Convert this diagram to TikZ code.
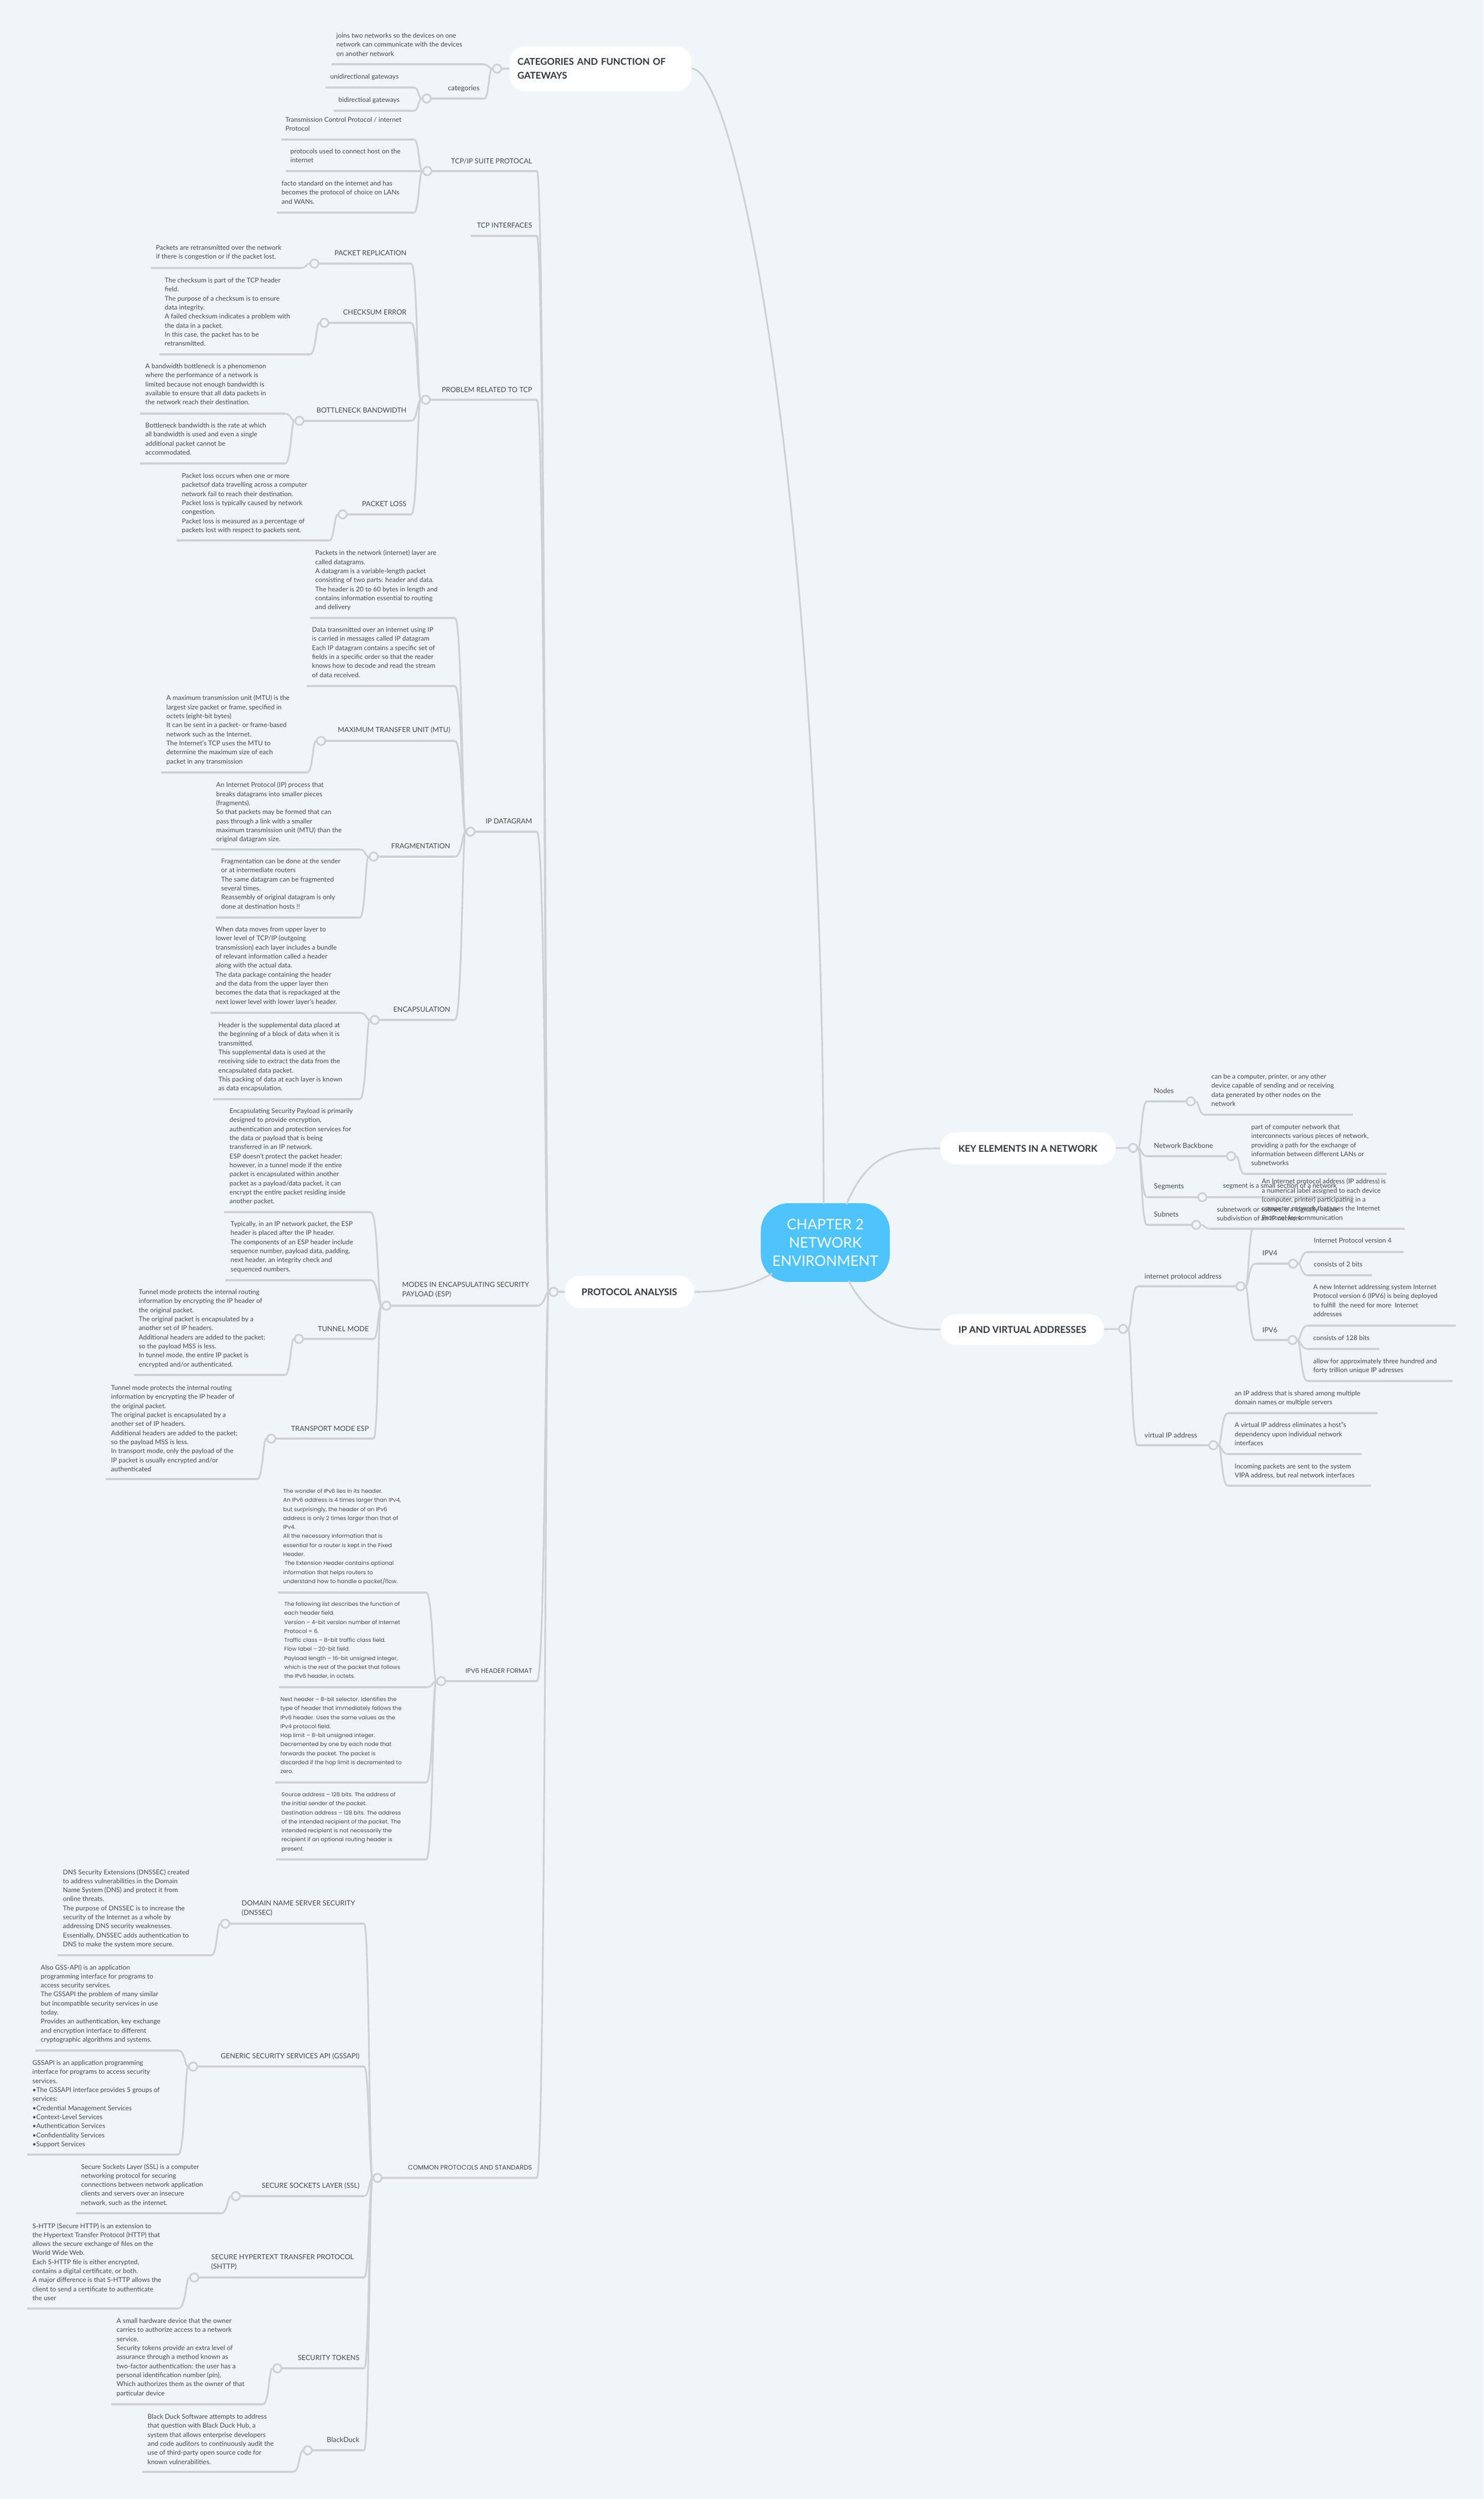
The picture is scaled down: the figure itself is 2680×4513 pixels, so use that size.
\documentclass[tikz,border=0pt]{standalone}
\usepackage{fontspec}
\setmainfont{Lato}
\newfontfamily\pop{Poppins}
\usetikzlibrary{calc}
\definecolor{bg}{RGB}{240,245,249}
\definecolor{ln}{RGB}{206,210,214}
\definecolor{tx}{RGB}{72,76,82}
\definecolor{hd}{RGB}{50,56,62}
\definecolor{cb}{RGB}{79,195,252}
\tikzset{
 conn/.style={draw=ln, line width=0.9pt},
 dot/.style={circle, draw=ln, fill=bg, line width=0.9pt, minimum size=0.15cm, inner sep=0},
 note/.style={font=\fontsize{3.4}{4.64}\selectfont, text=tx, align=left, inner sep=0, anchor=north west},
 pnote/.style={font=\pop\fontsize{2.85}{4.64}\selectfont, text=tx, align=left, inner sep=0, anchor=north west},
 labr/.style={font=\fontsize{3.6}{4.64}\selectfont, text=tx, align=left, inner sep=0, anchor=east},
 labl/.style={font=\fontsize{3.6}{4.64}\selectfont, text=tx, align=left, inner sep=0, anchor=west},
 hbox/.style={fill=white, rounded corners=0.27cm, font=\bfseries\fontsize{4.8}{7}\selectfont, text=hd, inner sep=0},
}
\newcommand\curL[2]{\draw[conn] (#1) .. controls ($(#1-|#2)+(-15,0)$) and ($(#2)+(-15,0)$) .. (#2);}
\newcommand\curR[2]{\draw[conn] (#1) .. controls ($(#1)+(15,0)$) and ($(#2-|#1)+(15,0)$) .. (#2);}
\newcommand\LN[9][note]{\node[#1] (#2) at (#3,#4) {#9};
 \coordinate (#2a) at (#6,#5); \coordinate (#2b) at (#7,#5);
 \draw[conn] (#2a) -- (#2b); \curL{#2b}{#8}}
\newcommand\LL[7]{\node[labr] (#1) at ({#6-8},#3) {#2};
 \node[dot] (#1d) at (#5,#4) {}; \coordinate (#1e) at (#6,#4);
 \draw[conn] (#1d) -- (#1e); \curL{#1e}{#7}}
\newcommand\RL[7]{\node[labl] (#1) at ({#5+12},#3) {#2};
 \coordinate (#1s) at (#5,#4); \node[dot] (#1d) at (#6,#4) {};
 \draw[conn] (#1s) -- (#1d); \curR{#7}{#1s}}
\newcommand\RN[8]{\node[note] (#1) at (#2,#3) {#8};
 \coordinate (#1a) at (#5,#4); \coordinate (#1b) at (#6,#4);
 \draw[conn] (#1a) -- (#1b); \curR{#7}{#1a}}
\begin{document}
\begin{tikzpicture}[x=0.01cm,y=-0.01cm]
\fill[bg] (0,0) rectangle (2680,4513);
\useasboundingbox (0,0) rectangle (2680,4513);
\node[fill=cb, rounded corners=0.5cm, minimum width=2.33cm, minimum height=1.42cm, align=center, text=white, font=\fontsize{7.4}{9.4}\selectfont, inner sep=0] (ch) at (1491,2244) {CHAPTER 2\\NETWORK\\ENVIRONMENT};
\coordinate (cht) at (1488,2174);
\coordinate (chtr) at (1529,2175);
\coordinate (chbr) at (1533,2313);
\coordinate (chw) at (1395,2300);
\node[hbox, minimum width=3.28cm, minimum height=0.81cm, text width=3.0cm, align=left] (gw) at (1085,124) {CATEGORIES AND FUNCTION OF\\GATEWAYS};
\node[dot] (gwd) at (898,124) {};
\draw[conn] (gwd) -- (gw);
\draw[conn] (gw.east) .. controls (1330,124) and (1488,900) .. (cht);
\node[hbox, minimum width=2.33cm, minimum height=0.58cm, align=center] (pa) at (1137,2333) {PROTOCOL ANALYSIS};
\node[dot] (pad) at (1000,2333) {};
\draw[conn] (pad) -- (pa);
\draw[conn] (pa.east) .. controls (1330,2333) and (1360,2318) .. (chw);
\node[hbox, minimum width=3.16cm, minimum height=0.58cm, align=center] (ke) at (1857,2074) {KEY ELEMENTS IN A NETWORK};
\node[dot] (ked) at (2047,2073) {};
\draw[conn] (ke) -- (ked);
\draw[conn] (chtr) .. controls (1570,2080) and (1620,2074) .. (ke.west);
\node[hbox, minimum width=2.94cm, minimum height=0.56cm, align=center] (ipv) at (1847,2401) {IP AND VIRTUAL ADDRESSES};
\node[dot] (ipvd) at (2029,2400) {};
\draw[conn] (ipv) -- (ipvd);
\draw[conn] (chbr) .. controls (1580,2400) and (1640,2401) .. (ipv.west);
\LN{g1}{607}{59}{116}{599}{872}{gwd}{joins two networks so the devices on one\\network can communicate with the devices\\on another network}
\LL{cat}{categories}{160}{178}{771}{875}{gwd}
\LN{g2}{596}{133}{158}{588}{748}{catd}{unidirectional gateways}
\LN{g3}{611}{175}{200}{603}{748}{catd}{bidirectioal gateways}
\LL{tcpip}{TCP/IP SUITE PROTOCAL}{291}{309}{772}{970}{pad}
\LN{t1}{515}{211}{252}{508}{748}{tcpipd}{Transmission Control Protocol / internet\\Protocol}
\LN{t2}{524}{268}{309}{516}{748}{tcpipd}{protocols used to connect host on the\\internet}
\LN{t3}{508}{326}{384}{500}{748}{tcpipd}{facto standard on the internet and has\\becomes the protocol of choice on LANs\\and WANs.}
\node[labr] (tcpi) at (962,407) {TCP INTERFACES};
\coordinate (tcpia) at (850,426); \coordinate (tcpie) at (970,426);
\draw[conn] (tcpia) -- (tcpie); \curL{tcpie}{pad}
\LL{prob}{PROBLEM RELATED TO TCP}{704}{722}{769}{970}{pad}
\LL{prep}{PACKET REPLICATION}{457}{476}{568}{743}{probd}
\LN{n1}{281}{442}{484}{272}{545}{prepd}{Packets are retransmitted over the network\\if there is congestion or if the packet lost.}
\LL{chk}{CHECKSUM ERROR}{564}{583}{586}{743}{probd}
\LN{n2}{297}{501}{640}{288}{560}{chkd}{The checksum is part of the TCP header\\field.\\The purpose of a checksum is to ensure\\data integrity.\\A failed checksum indicates a problem with\\the data in a packet.\\In this case, the packet has to be\\retransmitted.}
\LL{bot}{BOTTLENECK BANDWIDTH}{741}{760}{541}{743}{probd}
\LN{n3}{262}{656}{747}{253}{515}{botd}{A bandwidth bottleneck is a phenomenon\\where the performance of a network is\\limited because not enough bandwidth is\\available to ensure that all data packets in\\the network reach their destination.}
\LN{n4}{262}{763}{837}{253}{515}{botd}{Bottleneck bandwidth is the rate at which\\all bandwidth is used and even a single\\additional packet cannot be\\accommodated.}
\LL{loss}{PACKET LOSS}{910}{929}{619}{743}{probd}
\LN{n5}{328}{854}{976}{319}{595}{lossd}{Packet loss occurs when one or more\\packetsof data travelling across a computer\\network fail to reach their destination.\\Packet loss is typically caused by network\\congestion.\\Packet loss is measured as a percentage of\\packets lost with respect to packets sent.}
\LL{ipdg}{IP DATAGRAM}{1483}{1502}{850}{970}{pad}
\LN{n6}{569}{993}{1116}{560}{822}{ipdgd}{Packets in the network (internet) layer are\\called datagrams.\\A datagram is a variable-length packet\\consisting of two parts: header and data.\\The header is 20 to 60 bytes in length and\\contains information essential to routing\\and delivery}
\LN{n7}{563}{1132}{1239}{554}{822}{ipdgd}{Data transmitted over an internet using IP\\is carried in messages called IP datagram\\Each IP datagram contains a specific set of\\fields in a specific order so that the reader\\knows how to decode and read the stream\\of data received.}
\LL{mtu}{MAXIMUM TRANSFER UNIT (MTU)}{1319}{1338}{580}{822}{ipdgd}
\LN{n8}{300}{1255}{1395}{291}{555}{mtud}{A maximum transmission unit (MTU) is the\\largest size packet or frame, specified in\\octets (eight-bit bytes)\\It can be sent in a packet- or frame-based\\network such as the Internet.\\The Internet's TCP uses the MTU to\\determine the maximum size of each\\packet in any transmission}
\LL{frag}{FRAGMENTATION}{1528}{1547}{675}{822}{ipdgd}
\LN{n9}{390}{1412}{1534}{381}{650}{fragd}{An Internet Protocol (IP) process that\\breaks datagrams into smaller pieces\\(fragments).\\So that packets may be formed that can\\pass through a link with a smaller\\maximum transmission unit (MTU) than the\\original datagram size.}
\LN{n10}{399}{1550}{1657}{390}{650}{fragd}{Fragmentation can be done at the sender\\or at intermediate routers\\The same datagram can be fragmented\\several times.\\Reassembly of original datagram is only\\done at destination hosts !!}
\LL{enc}{ENCAPSULATION}{1823}{1842}{677}{822}{ipdgd}
\LN{n11}{389}{1673}{1829}{380}{650}{encd}{When data moves from upper layer to\\lower level of TCP/IP (outgoing\\transmission) each layer includes a bundle\\of relevant information called a header\\along with the actual data.\\The data package containing the header\\and the data from the upper layer then\\becomes the data that is repackaged at the\\next lower level with lower layer's header.}
\LN{n12}{394}{1846}{1985}{385}{650}{encd}{Header is the supplemental data placed at\\the beginning of a block of data when it is\\transmitted.\\This supplemental data is used at the\\receiving side to extract the data from the\\encapsulated data packet.\\This packing of data at each layer is known\\as data encapsulation.}
\node[labl, anchor=north west] (esp) at (726,2315) {MODES IN ENCAPSULATING SECURITY\\PAYLOAD (ESP)};
\node[dot] (espd) at (698,2358) {}; \coordinate (espe) at (970,2358);
\draw[conn] (espd) -- (espe); \curL{espe}{pad}
\LN{n13}{414}{2001}{2189}{405}{670}{espd}{Encapsulating Security Payload is primarily\\designed to provide encryption,\\authentication and protection services for\\the data or payload that is being\\transferred in an IP network.\\ESP doesn't protect the packet header;\\however, in a tunnel mode if the entire\\packet is encapsulated within another\\packet as a payload/data packet, it can\\encrypt the entire packet residing inside\\another packet.}
\LN{n14}{416}{2205}{2312}{407}{670}{espd}{Typically, in an IP network packet, the ESP\\header is placed after the IP header.\\The components of an ESP header include\\sequence number, payload data, padding,\\next header, an integrity check and\\sequenced numbers.}
\LL{tun}{TUNNEL MODE}{2400}{2418}{540}{675}{espd}
\LN{n15}{250}{2328}{2483}{242}{515}{tund}{Tunnel mode protects the internal routing\\information by encrypting the IP header of\\the original packet.\\The original packet is encapsulated by a\\another set of IP headers.\\Additional headers are added to the packet;\\so the payload MSS is less.\\In tunnel mode, the entire IP packet is\\encrypted and/or authenticated.}
\LL{tra}{TRANSPORT MODE ESP}{2580}{2598}{490}{675}{espd}
\LN{n16}{200}{2501}{2671}{191}{465}{trad}{Tunnel mode protects the internal routing\\information by encrypting the IP header of\\the original packet.\\The original packet is encapsulated by a\\another set of IP headers.\\Additional headers are added to the packet;\\so the payload MSS is less.\\In transport mode, only the payload of the\\IP packet is usually encrypted and/or\\authenticated}
\node[labr, font=\pop\fontsize{3.3}{4.6}\selectfont] (v6) at (962,3017) {IPV6 HEADER FORMAT};
\node[dot] (v6d) at (797,3036) {}; \coordinate (v6e) at (970,3036);
\draw[conn] (v6d) -- (v6e); \curL{v6e}{pad}
\LN[pnote]{n17}{511}{2688}{2876}{502}{770}{v6d}{The wonder of IPv6 lies in its header.\\An IPv6 address is 4 times larger than IPv4,\\but surprisingly, the header of an IPv6\\address is only 2 times larger than that of\\IPv4.\\All the necessary information that is\\essential for a router is kept in the Fixed\\Header.\\\ The Extension Header contains optional\\information that helps routers to\\understand how to handle a packet/flow.}
\LN[pnote]{n18}{513}{2892}{3047}{504}{770}{v6d}{The following list describes the function of\\each header field.\\Version – 4-bit version number of Internet\\Protocol = 6.\\Traffic class – 8-bit traffic class field.\\Flow label – 20-bit field.\\Payload length – 16-bit unsigned integer,\\which is the rest of the packet that follows\\the IPv6 header, in octets.}
\LN[pnote]{n19}{506}{3064}{3219}{497}{770}{v6d}{Next header – 8-bit selector. Identifies the\\type of header that immediately follows the\\IPv6 header. Uses the same values as the\\IPv4 protocol field.\\Hop limit – 8-bit unsigned integer.\\Decremented by one by each node that\\forwards the packet. The packet is\\discarded if the hop limit is decremented to\\zero.}
\LN[pnote]{n20}{508}{3236}{3358}{499}{770}{v6d}{Source address – 128 bits. The address of\\the initial sender of the packet.\\Destination address – 128 bits. The address\\of the intended recipient of the packet. The\\intended recipient is not necessarily the\\recipient if an optional routing header is\\present.}
\node[labr, font=\pop\fontsize{3.3}{4.6}\selectfont] (com) at (962,3914) {COMMON PROTOCOLS AND STANDARDS};
\node[dot] (comd) at (682,3933) {}; \coordinate (come) at (970,3933);
\draw[conn] (comd) -- (come); \curL{come}{pad}
\node[labl, anchor=north west] (dns) at (436,3432) {DOMAIN NAME SERVER SECURITY\\(DNSSEC)};
\node[dot] (dnsd) at (407,3474) {}; \coordinate (dnse) at (658,3474);
\draw[conn] (dnsd) -- (dnse); \curL{dnse}{comd}
\LN{n21}{113}{3375}{3531}{104}{382}{dnsd}{DNS Security Extensions (DNSSEC) created\\to address vulnerabilities in the Domain\\Name System (DNS) and protect it from\\online threats.\\The purpose of DNSSEC is to increase the\\security of the Internet as a whole by\\addressing DNS security weaknesses.\\Essentially, DNSSEC adds authentication to\\DNS to make the system more secure.}
\LL{gss}{GENERIC SECURITY SERVICES API (GSSAPI)}{3713}{3732}{349}{658}{comd}
\LN{n22}{73}{3547}{3703}{64}{322}{gssd}{Also GSS-API) is an application\\programming interface for programs to\\access security services.\\The GSSAPI the problem of many similar\\but incompatible security services in use\\today.\\Provides an authentication, key exchange\\and encryption interface to different\\cryptographic algorithms and systems.}
\LN{n23}{58}{3720}{3891}{49}{322}{gssd}{GSSAPI is an application programming\\interface for programs to access security\\services.\\•The GSSAPI interface provides 5 groups of\\services:\\•Credential Management Services\\•Context-Level Services\\•Authentication Services\\•Confidentiality Services\\•Support Services}
\LL{ssl}{SECURE SOCKETS LAYER (SSL)}{3947}{3966}{426}{658}{comd}
\LN{n24}{146}{3907}{3997}{137}{400}{ssld}{Secure Sockets Layer (SSL) is a computer\\networking protocol for securing\\connections between network application\\clients and servers over an insecure\\network, such as the internet.}
\node[labl, anchor=north west] (sh) at (381,4071) {SECURE HYPERTEXT TRANSFER PROTOCOL\\(SHTTP)};
\node[dot] (shd) at (351,4113) {}; \coordinate (she) at (658,4113);
\draw[conn] (shd) -- (she); \curL{she}{comd}
\LN{n25}{58}{4014}{4169}{49}{322}{shd}{S-HTTP (Secure HTTP) is an extension to\\the Hypertext Transfer Protocol (HTTP) that\\allows the secure exchange of files on the\\World Wide Web.\\Each S-HTTP file is either encrypted,\\contains a digital certificate, or both.\\A major difference is that S-HTTP allows the\\client to send a certificate to authenticate\\the user}
\LL{tok}{SECURITY TOKENS}{4258}{4277}{501}{658}{comd}
\LN{n26}{210}{4186}{4342}{201}{475}{tokd}{A small hardware device that the owner\\carries to authorize access to a network\\service.\\Security tokens provide an extra level of\\assurance through a method known as\\two-factor authentication: the user has a\\personal identification number (pin),\\Which authorizes them as the owner of that\\particular device}
\LL{bd}{BlackDuck}{4406}{4425}{556}{658}{comd}
\LN{n27}{266}{4359}{4464}{257}{530}{bdd}{Black Duck Software attempts to address\\that question with Black Duck Hub, a\\system that allows enterprise developers\\and code auditors to continuously audit the\\use of third-party open source code for\\known vulnerabilities.}
\RL{nod}{Nodes}{1970}{1989}{2072}{2151}{ked}
\RN{r1}{2188}{1939}{2013}{2176}{2444}{nodd}{can be a computer, printer, or any other\\device capable of sending and or receiving\\data generated by other nodes on the\\network}
\RL{bb}{Network Backbone}{2069}{2088}{2072}{2224}{ked}
\RN{r2}{2260}{2030}{2120}{2248}{2505}{bbd}{part of computer network that\\interconnects various pieces of network,\\providing a path for the exchange of\\information between different LANs or\\subnetworks}
\RL{seg}{Segments}{2143}{2162}{2072}{2172}{ked}
\RN{r3}{2209}{2136}{2162}{2197}{2445}{segd}{segment is a small section of a network}
\RL{sub}{Subnets}{2193}{2212}{2072}{2161}{ked}
\RN{r4}{2198}{2179}{2219}{2186}{2450}{subd}{subnetwork or subnet, is a logically visible\\subdivistion of an IP network}
\RL{ipa}{internet protocol address}{2306}{2323}{2055}{2241}{ipvd}
\RN{r5}{2279}{2128}{2219}{2264}{2538}{ipad}{An Internet protocol address (IP address) is\\a numerical label assigned to each device\\(computer, printer) participating in a\\computer network that uses the Internet\\Protocol for communication}
\RL{v4}{IPV4}{2263}{2282}{2268}{2336}{ipad}
\RN{r6}{2373}{2235}{2261}{2362}{2536}{v4d}{Internet Protocol version 4}
\RN{r7}{2373}{2278}{2303}{2362}{2479}{v4d}{consists of 2 bits}
\RL{v6r}{IPV6}{2402}{2420}{2268}{2335}{ipad}
\RN{r8}{2372}{2319}{2394}{2362}{2630}{v6rd}{A new Internet addressing system Internet\\Protocol version 6 (IPV6) is being deployed\\to fulfill\ \ the need for more\ \ Internet\\addresses}
\RN{r9}{2372}{2411}{2436}{2362}{2492}{v6rd}{consists of 128 bits}
\RN{r10}{2372}{2453}{2494}{2362}{2624}{v6rd}{allow for approximately three hundred and\\forty trillion unique IP adresses}
\RL{vip}{virtual IP address}{2592}{2610}{2055}{2192}{ipvd}
\RN{r11}{2230}{2511}{2552}{2218}{2489}{vipd}{an IP address that is shared among multiple\\domain names or multiple servers}
\RN{r12}{2230}{2568}{2626}{2218}{2460}{vipd}{A virtual IP address eliminates a host"s\\dependency upon individual network\\interfaces}
\RN{r13}{2230}{2643}{2683}{2218}{2477}{vipd}{Incoming packets are sent to the system\\VIPA address, but real network interfaces}
\end{tikzpicture}
\end{document}
